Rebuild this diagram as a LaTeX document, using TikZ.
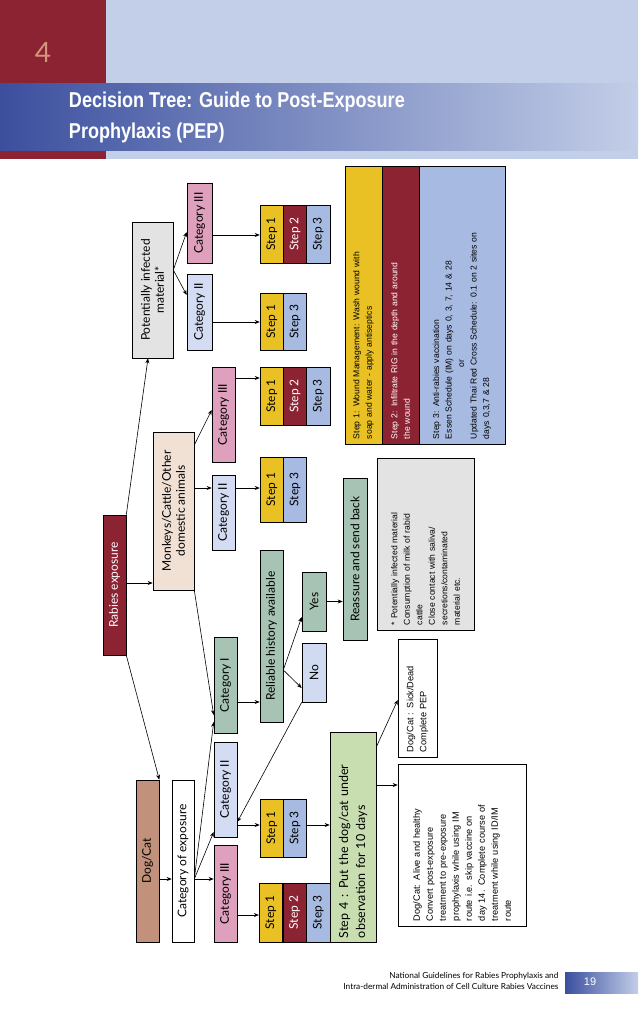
\documentclass[tikz,border=0pt]{standalone}
\usepackage{fontspec}
\setmainfont{Lato}
\newfontfamily\arialf{Liberation Sans}
\usetikzlibrary{arrows.meta,calc}
\definecolor{cRed}{HTML}{8B2332}
\definecolor{cYel}{HTML}{E9C124}
\definecolor{cS3}{HTML}{A7BBE2}
\definecolor{cC2}{HTML}{D3DCF2}
\definecolor{cC3}{HTML}{DFA0BD}
\definecolor{cGr}{HTML}{A6C3B3}
\definecolor{cNo}{HTML}{D0DAF1}
\definecolor{cMon}{HTML}{F1E1D5}
\definecolor{cPim}{HTML}{E3E3E3}
\definecolor{cDog}{HTML}{C1917B}
\definecolor{cS4}{HTML}{C8DDB0}
\definecolor{cHL}{HTML}{C3CEE8}
\definecolor{cHB}{HTML}{3B4F9E}
\definecolor{cFour}{HTML}{D4957A}
\tikzset{
 bx/.style={draw=black, line width=0.6pt, rotate=90, inner sep=1pt, align=center,
   font=\fontsize{12}{14.5}\selectfont},
 st/.style={bx, minimum height=23.3pt},
 sm/.style={bx, align=left, font=\arialf\fontsize{8.6}{12.5}\selectfont},
 ar/.style={-{Stealth[length=5pt,width=4pt]}, line width=0.6pt},
}
\begin{document}
\begin{tikzpicture}[x=1pt,y=-1pt]
\useasboundingbox (0,0) rectangle (638,1011);
% header
\fill[cHL] (0,0) rectangle (638,159);
\fill[cRed] (0,0) rectangle (106,159);
\shade[left color=cHB, right color=cHL] (0,84) rectangle (638,151);
\node[text=cFour, font=\fontsize{28}{28}\selectfont] (four) at (43,52) {4};
\node[anchor=west, text=white, align=left, xscale=0.84, font=\arialf\bfseries\fontsize{21.5}{31}\selectfont] (title) at (66,117) {Decision Tree: Guide to Post-Exposure\\Prophylaxis (PEP)};
% footer
\shade[left color=cHB, right color=cHL] (565,972) rectangle (638,993);
\node[text=white, font=\arialf\fontsize{11}{11}\selectfont] (pg) at (590,982) {19};
\node[anchor=east, align=right, font=\fontsize{8.3}{11.5}\selectfont] (foot) at (562,981) {National Guidelines for Rabies Prophylaxis and\\Intra-dermal Administration of Cell Culture Rabies Vaccines};

% tree
\node[bx, fill=cRed, text=white, minimum width=140pt, minimum height=23pt] (rab) at (114.5,585) {Rabies exposure};
\node[bx, fill=cPim, minimum width=136pt, minimum height=41pt, font=\fontsize{12}{14}\selectfont] (pim) at (152.5,290) {Potentially infected\\material*};
\node[bx, fill=cC3, minimum width=80pt, minimum height=25pt] (p3) at (199.5,223) {Category III};
\node[bx, fill=cC2, minimum width=76pt, minimum height=25pt] (p2) at (199.5,312) {Category II};
\node[st, fill=cYel, minimum width=58pt] (p3a) at (271.7,234) {Step 1};
\node[st, fill=cRed, text=white, minimum width=58pt] (p3b) at (295,234) {Step 2};
\node[st, fill=cS3, minimum width=58pt] (p3c) at (318.3,234) {Step 3};
\node[st, fill=cYel, minimum width=57pt] (p2a) at (271.7,321.5) {Step 1};
\node[st, fill=cS3, minimum width=57pt] (p2c) at (295,321.5) {Step 3};

\node[bx, fill=cMon, minimum width=158pt, minimum height=41pt, font=\fontsize{12}{14}\selectfont] (mon) at (173.5,511) {Monkeys/Cattle/Other\\domestic animals};
\node[bx, fill=cC3, minimum width=95pt, minimum height=23pt] (m3) at (223.5,414.5) {Category III};
\node[bx, fill=cC2, minimum width=75pt, minimum height=23pt] (m2) at (223.5,512.5) {Category II};
\node[st, fill=cYel, minimum width=58pt] (m3a) at (271.7,396) {Step 1};
\node[st, fill=cRed, text=white, minimum width=58pt] (m3b) at (295,396) {Step 2};
\node[st, fill=cS3, minimum width=58pt] (m3c) at (318.3,396) {Step 3};
\node[st, fill=cYel, minimum width=65pt] (m2a) at (271.7,489.5) {Step 1};
\node[st, fill=cS3, minimum width=65pt] (m2c) at (295,489.5) {Step 3};

% legend
\node[sm, fill=cYel, minimum width=278pt, minimum height=37pt, text width=268pt] (l1) at (363.5,305) {Step 1: Wound Management: Wash wound with\\soap and water - apply antiseptics};
\node[sm, fill=cRed, text=white, minimum width=278pt, minimum height=37pt, text width=268pt] (l2) at (400.5,305) {Step 2: Infiltrate RIG in the depth and around\\the wound};
\node[sm, fill=cS3, minimum width=278pt, minimum height=86pt, text width=268pt] (l3) at (462,305) {Step 3: Anti-rabies vaccination\\Essen Schedule (IM) on days 0, 3, 7, 14 \& 28\\\hspace*{72pt}or\\Updated Thai Red Cross Schedule: 0.1 on 2 sites on\\days 0,3,7 \& 28};
\node[sm, fill=cPim, minimum width=172pt, minimum height=97pt, text width=162pt] (note) at (425.5,544) {* Potentially infected material\\Consumption of milk of rabid\\cattle\\Close contact with saliva/\\secretions/contaminated\\material etc.};

\node[bx, fill=cGr, minimum width=162pt, minimum height=24pt] (reas) at (355,559) {Reassure and send back};
\node[bx, fill=cGr, minimum width=172pt, minimum height=23pt] (rel) at (271.5,636) {Reliable history available};
\node[bx, fill=cGr, minimum width=59pt, minimum height=24pt] (yes) at (314,601.5) {Yes};
\node[bx, fill=cNo, minimum width=59pt, minimum height=24pt] (no) at (314,672.5) {No};
\node[bx, fill=cGr, minimum width=96pt, minimum height=23pt] (c1) at (225.5,685) {Category I};

\node[bx, fill=cDog, minimum width=162pt, minimum height=23pt] (dog) at (147.5,861) {Dog/Cat};
\node[bx, fill=white, minimum width=162pt, minimum height=22pt] (coe) at (183,861) {Category of exposure};
\node[bx, fill=cC2, minimum width=95pt, minimum height=23pt] (c2) at (225.5,789.5) {Category II};
\node[bx, fill=cC3, minimum width=97pt, minimum height=23pt] (c3) at (225.5,893.5) {Category III};
\node[st, fill=cYel, minimum width=59pt] (d3a) at (270.8,912.5) {Step 1};
\node[st, fill=cRed, text=white, minimum width=59pt] (d3b) at (294.5,912.5) {Step 2};
\node[st, fill=cS3, minimum width=59pt] (d3c) at (318.2,912.5) {Step 3};
\node[st, fill=cYel, minimum width=58pt] (d2a) at (271.7,828) {Step 1};
\node[st, fill=cS3, minimum width=58pt] (d2c) at (295,828) {Step 3};
\node[bx, fill=cS4, align=left, minimum width=210pt, minimum height=46pt, text width=202pt, font=\fontsize{12.5}{17}\selectfont] (s4) at (353,837) {Step 4 : Put the dog/cat under\\observation for 10 days};
\node[sm, fill=white, minimum width=118pt, minimum height=39pt, text width=108pt, font=\arialf\fontsize{9.2}{13}\selectfont] (sick) at (417.5,698) {Dog/Cat : Sick/Dead\\Complete PEP};
\node[sm, fill=white, minimum width=162pt, minimum height=128pt, text width=152pt, font=\arialf\fontsize{9.2}{13}\selectfont] (alive) at (462,845) {Dog/Cat: Alive and healthy\\Convert post-exposure\\treatment to pre-exposure\\prophylaxis while using IM\\route i.e. skip vaccine on\\day 14. Complete course of\\treatment while using ID/IM\\route};

% connectors
\draw[ar] (rab.south east) -- (pim.west -| 148,0);
\draw[ar] (rab.south |- 0,583) -- (mon.north |- 0,583);
\draw[ar] (rab.south west) -- (dog.south east);
\draw[ar] (pim.south |- 0,270) -- (p3.north |- 0,232);
\draw[ar] (pim.south |- 0,270) -- (p2.north |- 0,295);
\draw[ar] (p3.south |- 0,235) -- (p3a.north |- 0,235);
\draw[ar] (p2.south |- 0,322) -- (p2a.north |- 0,322);
\draw[ar] (mon.south |- 0,488) -- (m2.north |- 0,488);
\draw[ar] (mon.south |- 0,445) -- (m3.north |- 0,410);
\draw[ar] (m3.south |- 0,378) -- (m3a.north |- 0,378);
\draw[ar] (m2.south |- 0,488) -- (m2a.north |- 0,488);
\draw[ar] (mon.south west) -- (c1.north |- 0,715);
\draw[ar] (c1.south |- 0,702) -- (rel.north |- 0,702);
\draw[ar] (rel.south |- 0,670) -- (yes.north |- 0,617);
\draw[ar] (rel.south |- 0,670) -- (no.north |- 0,688);
\draw[ar] (yes.south) -- (reas.north |- yes.south);
\draw[ar] (no.north west) -- (c2.south |- 0,822);
\draw[ar] (dog.south |- 0,879) -- (coe.north |- 0,879);
\draw[ar] (coe.south |- 0,879) -- (c3.north |- 0,879);
\draw[ar] (coe.south |- 0,879) -- (c2.north |- 0,832);
\draw[ar] (coe.south |- 0,879) -- (c1.north |- 0,722);
\draw[ar] (c3.south |- 0,915) -- (d3a.north |- 0,915);
\draw[ar] (c2.south |- 0,825) -- (d2a.north |- 0,825);
\draw[ar] (d2c.south |- 0,825) -- (s4.north |- 0,825);
\draw[ar] (s4.south |- 0,747) -- (sick.north |- 0,700);
\draw[ar] (s4.south |- 0,785) -- (alive.north |- 0,785);
\end{tikzpicture}
\end{document}
